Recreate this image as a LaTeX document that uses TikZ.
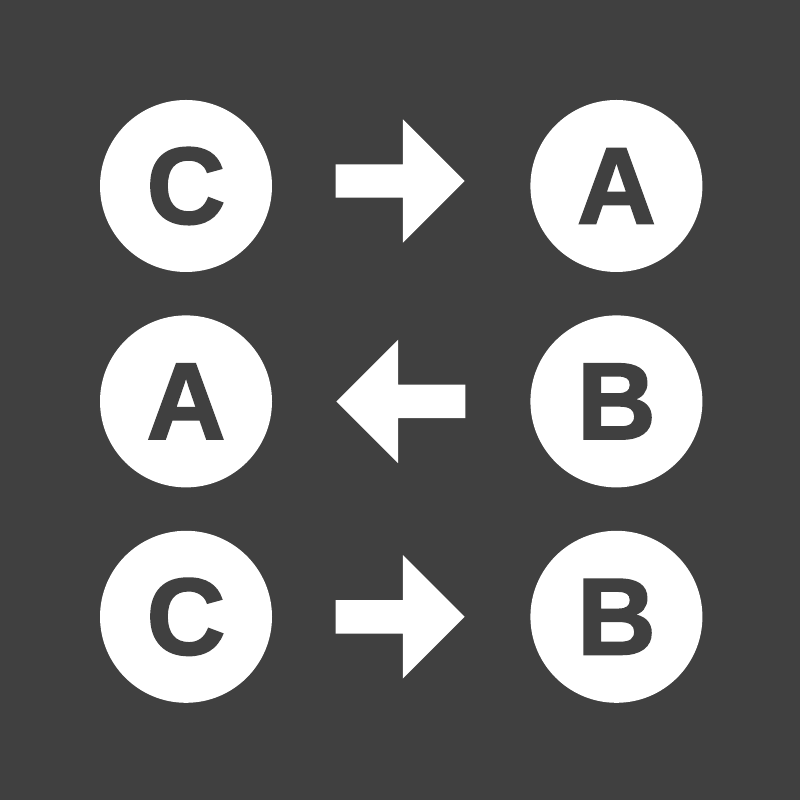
\documentclass[tikz,border=0pt]{standalone}
\usepackage{fontspec}
\setmainfont{Liberation Sans}[BoldFeatures={FakeBold=1.8}]
\usetikzlibrary{positioning,shapes,arrows,calc}
\definecolor{bggray}{HTML}{404040}
\def\dx{2.57cm}
\def\dy{0.42cm}
\tikzstyle{disc}=[circle,fill=white,text=bggray,minimum size=1.72cm,inner sep=0pt,
  font=\fontsize{31}{31}\selectfont\bfseries]
\tikzstyle{blockarrow}=[single arrow,fill=white,draw=none,minimum height=1.29cm,
  inner xsep=0pt,inner ysep=0.16cm,single arrow head extend=0.45cm]
\newcommand{\newDisc}[3]{\node[disc](#1)[#3]{#2};}
\newcommand{\newArrow}[4]{\node[blockarrow,#4](#1) at ($(#2)!0.5!(#3)$) {};}
\begin{document}
\begin{tikzpicture}[node distance=\dy and \dx]
      \fill[bggray] (0,0) rectangle (8,8);
      \useasboundingbox (0,0) rectangle (8,8);
      \newDisc{c1}{C}{at={(1.86,6.14)}}
      \newDisc{a1}{A}{right=of c1}
      \newDisc{a2}{A}{below=of c1}
      \newDisc{b2}{B}{right=of a2}
      \newDisc{c3}{C}{below=of a2}
      \newDisc{b3}{B}{right=of c3}
      \newArrow{r1}{c1}{a1}{xshift=-0.095cm,yshift=0.05cm}
      \newArrow{r2}{a2}{b2}{shape border rotate=180,xshift=0.08cm}
      \newArrow{r3}{c3}{b3}{xshift=-0.095cm}
    \end{tikzpicture}
\end{document}
